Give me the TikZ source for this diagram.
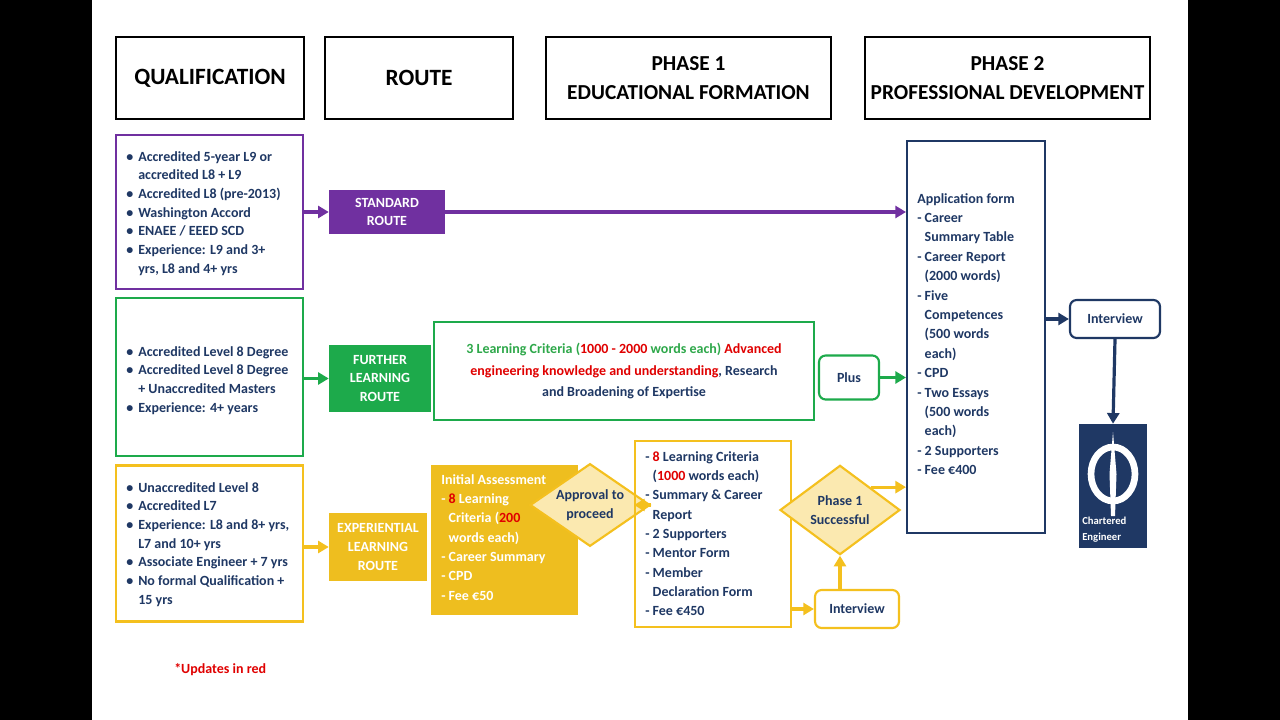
\documentclass[tikz,border=0pt]{standalone}
\usepackage{fontspec}
\setmainfont{Carlito}
\usetikzlibrary{shapes.geometric,arrows.meta}
\definecolor{navy}{HTML}{1F3864}
\definecolor{pur}{HTML}{7030A0}
\definecolor{grn}{HTML}{1DAA4B}
\definecolor{yel}{HTML}{F4C01E}
\definecolor{yfill}{HTML}{EEBE1F}
\definecolor{rd}{HTML}{E00000}
\definecolor{tg}{HTML}{2EA84A}
\newcommand\bl{\makebox[9pt][l]{\textbullet}}
\newcommand\ct{\hspace*{9pt}}
\begin{document}
\begin{tikzpicture}[x=0.75pt,y=-0.75pt,font=\bfseries\fontsize{10.5}{14}\selectfont,
 hdr/.style={draw=black,line width=1.6pt,minimum height=61.5pt,align=center,font=\bfseries\fontsize{16}{18}\selectfont},
 box/.style={line width=1.6pt,align=left,inner sep=2pt,text=navy},
 tx/.style={text=navy,align=left,anchor=north west,inner sep=0pt},
 rt/.style={align=center,text=white,inner sep=1pt},
 ar/.style={line width=2.4pt,-{Triangle[length=8pt,width=9pt]}},
 dia/.style={diamond,aspect=1.45,fill=yel!35,draw=yel,line width=1.6pt,align=center,text=navy,inner sep=0pt}]
\fill[black] (0,0) rectangle (1280,720);
\fill[white] (92,0) rectangle (1188,720);
\useasboundingbox (0,0) rectangle (1280,720);
% headers
\node[hdr,minimum width=141pt,font=\bfseries\fontsize{17.5}{18}\selectfont] (h1) at (210,78) {QUALIFICATION};
\node[hdr,minimum width=141pt,font=\bfseries\fontsize{17.5}{18}\selectfont] (h2) at (419,78) {ROUTE};
\node[hdr,minimum width=214pt] (h3) at (688.5,78) {PHASE 1\\[4pt]EDUCATIONAL FORMATION};
\node[hdr,minimum width=214pt] (h4) at (1007.5,78) {PHASE 2\\[4pt]PROFESSIONAL DEVELOPMENT};
% qualification boxes
\node[box,draw=pur,minimum width=140pt,minimum height=115pt] (q1) at (209.5,212) {};
\node[tx] at (126,151) {\bl Accredited 5-year L9 or\\\ct accredited L8 + L9\\\bl Accredited L8 (pre-2013)\\\bl Washington Accord\\\bl ENAEE / EEED SCD\\\bl Experience: L9 and 3+\\\ct yrs, L8 and 4+ yrs};
\node[box,draw=grn,minimum width=140pt,minimum height=118pt] (q2) at (209.5,377) {};
\node[tx] at (126,346) {\bl Accredited Level 8 Degree\\\bl Accredited Level 8 Degree\\\ct + Unaccredited Masters\\\bl Experience: 4+ years};
\node[box,draw=yel,minimum width=140pt,minimum height=117pt] (q3) at (209.5,543.5) {};
\node[tx] at (126,482) {\bl Unaccredited Level 8\\\bl Accredited L7\\\bl Experience: L8 and 8+ yrs,\\\ct L7 and 10+ yrs\\\bl Associate Engineer + 7 yrs\\\bl No formal Qualification +\\\ct 15 yrs};
% routes
\node[rt,fill=pur,minimum width=87pt,minimum height=33pt] (r1) at (387,212) {STANDARD\\ROUTE};
\node[rt,fill=grn,minimum width=76.5pt,minimum height=50pt] (r2) at (380,378.5) {FURTHER\\LEARNING\\ROUTE};
\node[rt,fill=yfill,minimum width=73.5pt,minimum height=51pt] (r3) at (378,547) {EXPERIENTIAL\\LEARNING\\ROUTE};
% further learning criteria
\node[box,draw=grn,minimum width=285pt,minimum height=73.5pt,align=center,font=\bfseries\fontsize{10.5}{16}\selectfont] (lc) at (624,371) {\color{tg}3 Learning Criteria (\textcolor{rd}{1000 - 2000} words each) \textcolor{rd}{Advanced}\\\textcolor{rd}{engineering knowledge and understanding}, Research\\and Broadening of Expertise};
\node[box,draw=grn,rounded corners=5pt,minimum width=45pt,minimum height=33pt,align=center] (plus) at (849,377.5) {Plus};
% experiential
\node[fill=yfill,minimum width=110pt,minimum height=112.5pt,anchor=north west,inner sep=0pt] (ia) at (431,465) {};
\node[tx,text=white,font=\bfseries\fontsize{10.5}{14.5}\selectfont] at (441,474) {Initial Assessment\\- \textcolor{rd}{8} Learning\\\hphantom{- }Criteria (\textcolor{rd}{200}\\\hphantom{- }words each)\\- Career Summary\\- CPD\\- Fee €50};
\node[dia,minimum width=90pt,minimum height=62pt] (ap) at (590,505) {Approval to\\proceed};
\node[box,draw=yel,minimum width=117pt,minimum height=139.5pt,anchor=north west] (wb) at (634,440) {};
\node[tx,font=\bfseries\fontsize{10.5}{14.5}\selectfont] at (645,451) {- \textcolor{rd}{8} Learning Criteria\\\hphantom{- }(\textcolor{rd}{1000} words each)\\- Summary \& Career\\\hphantom{- }Report\\- 2 Supporters\\- Mentor Form\\- Member\\\hphantom{- }Declaration Form\\- Fee €450};
\node[dia,minimum width=90pt,minimum height=67pt] (p1) at (840,510) {Phase 1\\Successful};
\node[box,draw=yel,rounded corners=5pt,minimum width=63pt,minimum height=28.5pt,align=center] (iv1) at (857,609) {Interview};
% phase 2
\node[box,draw=navy,minimum width=103.5pt,minimum height=294pt,anchor=north west] (ph2) at (906,140) {};
\node[tx,font=\bfseries\fontsize{10.5}{14.55}\selectfont] at (917,193) {Application form\\- Career\\\hphantom{- }Summary Table\\- Career Report\\\hphantom{- }(2000 words)\\- Five\\\hphantom{- }Competences\\\hphantom{- }(500 words\\\hphantom{- }each)\\- CPD\\- Two Essays\\\hphantom{- }(500 words\\\hphantom{- }each)\\- 2 Supporters\\- Fee €400};
\node[box,draw=navy,rounded corners=5pt,minimum width=67.5pt,minimum height=28.5pt,align=center] (iv2) at (1115,319) {Interview};
% logo
\node[fill=navy,minimum width=51pt,minimum height=93pt,inner sep=0pt] (logo) at (1113,486) {};
\draw[white,line width=5pt] (1113,474) ellipse (22 and 27);
\fill[white] (1113,432) -- (1116.5,474) -- (1115,516) -- (1111,516) -- (1109.5,474) -- cycle;
\node[white,font=\bfseries\fontsize{8}{12}\selectfont,align=left,anchor=north west,inner sep=0pt] at (1082,517) {Chartered\\Engineer};
\node[rd,anchor=west,inner sep=0pt] at (174,670) {*Updates in red};
% arrows
\draw[ar,pur] (q1.east|-r1) -- (r1.west);
\draw[ar,pur] (r1.east) -- (ph2.west|-r1);
\draw[ar,grn] (q2.east|-r2) -- (r2.west);
\draw[ar,grn] (plus.east) -- (ph2.west|-plus);
\draw[ar,yel] (q3.east|-r3) -- (r3.west);
\draw[ar,yel] (ap.east) -- (wb.west|-ap);
\draw[ar,yel] (wb.east|-iv1) -- (iv1.west);
\draw[ar,yel] (iv1.north-|p1) -- (p1.south);
\draw[ar,yel] (p1.north east) -- (ph2.west|-p1.north east);
\draw[ar,navy] (ph2.east|-iv2) -- (iv2.west);
\draw[ar,navy] (iv2.south) -- (logo.north);
\end{tikzpicture}
\end{document}
